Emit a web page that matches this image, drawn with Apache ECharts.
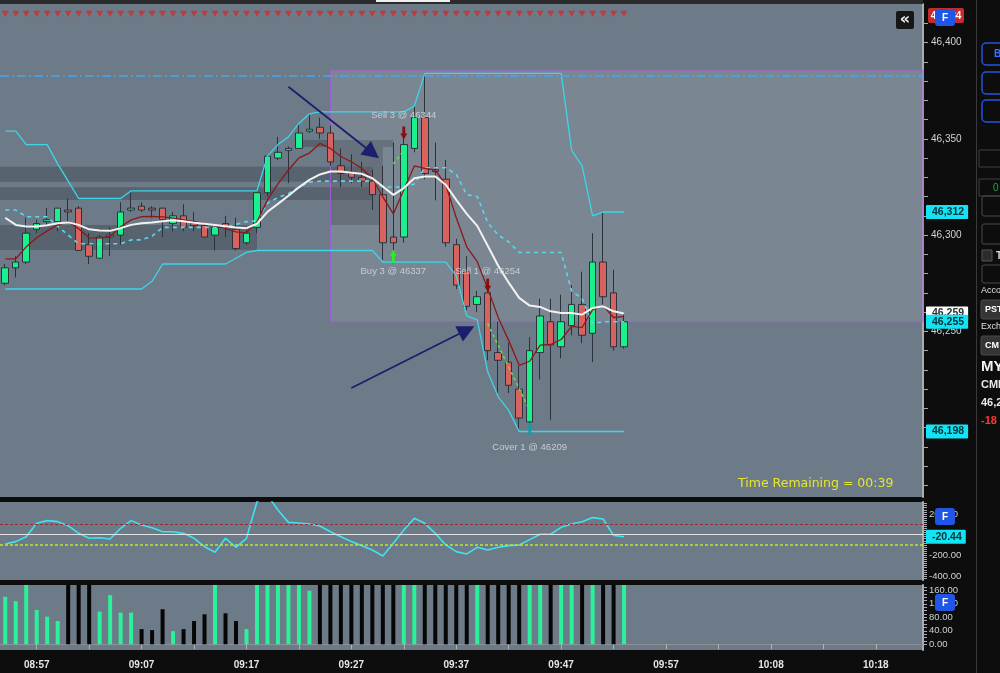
<!DOCTYPE html>
<html>
<head>
<meta charset="utf-8">
<style>
html, body { margin: 0; padding: 0; background: #0d0d0d; }
#chart { width: 1000px; height: 673px; }
</style>
<script src="https://cdn.jsdelivr.net/npm/echarts@6/dist/echarts.min.js"></script>
</head>
<body>
<div id="chart"></div>
<script>
// slots on the time axis: 60 bars so far, the rest is empty future space
const slotCount = 88
const slots = Array.from({ length: slotCount }, (_, i) => String(i))
const timeTicks = ['08:57', '09:07', '09:17', '09:27', '09:37', '09:47', '09:57', '10:08', '10:18']
const firstTickSlot = 3

// [open, close, low, high]
const candles = [
  [46275, 46283, 46274, 46285], [46283, 46286, 46278, 46289], [46286, 46301, 46285, 46309],
  [46303, 46306, 46301, 46308], [46307, 46308, 46305, 46314], [46307, 46314, 46302, 46314],
  [46313, 46312, 46307, 46319], [46314, 46292, 46292, 46315], [46295, 46289, 46285, 46301],
  [46288, 46299, 46288, 46300], [46299, 46300, 46289, 46304], [46300, 46312, 46295, 46317],
  [46313, 46314, 46312, 46322], [46315, 46313, 46312, 46317], [46314, 46313, 46309, 46315],
  [46314, 46308, 46299, 46314], [46306, 46310, 46302, 46312], [46310, 46304, 46302, 46316],
  [46306, 46305, 46302, 46312], [46305, 46299, 46299, 46306], [46300, 46304, 46292, 46304],
  [46306, 46304, 46299, 46310], [46303, 46293, 46292, 46309], [46296, 46301, 46295, 46303],
  [46304, 46322, 46301, 46322], [46322, 46341, 46320, 46341], [46340, 46343, 46339, 46351],
  [46344, 46345, 46327, 46346], [46345, 46353, 46345, 46358], [46354, 46355, 46353, 46363],
  [46356, 46353, 46350, 46361], [46353, 46338, 46336, 46357], [46336, 46332, 46325, 46345],
  [46332, 46330, 46327, 46342], [46330, 46328, 46325, 46338], [46328, 46321, 46313, 46334],
  [46321, 46296, 46287, 46336], [46299, 46296, 46292, 46348], [46299, 46347, 46296, 46351],
  [46345, 46361, 46343, 46368], [46361, 46332, 46329, 46384], [46334, 46333, 46318, 46348],
  [46329, 46296, 46294, 46339], [46295, 46274, 46272, 46298], [46281, 46263, 46261, 46289],
  [46264, 46268, 46260, 46271], [46270, 46240, 46235, 46277], [46239, 46235, 46218, 46255],
  [46234, 46222, 46218, 46244], [46220, 46205, 46199, 46232], [46203, 46240, 46198, 46247],
  [46239, 46258, 46225, 46267], [46255, 46243, 46204, 46267], [46242, 46255, 46236, 46269],
  [46253, 46264, 46248, 46274], [46264, 46248, 46244, 46281], [46249, 46286, 46234, 46301],
  [46286, 46268, 46264, 46312], [46270, 46242, 46240, 46282], [46242, 46255, 46241, 46260]
]

const fastMA = [
  46287.7, 46287.7, 46293.9, 46298.6, 46302.2, 46305.3, 46306.9, 46303.3, 46298.6, 46298.4,
  46299.3, 46304.3, 46307.9, 46309.6, 46309.7, 46309.5, 46308.8, 46307.9, 46307.0, 46306.1,
  46304.8, 46303.3, 46301.7, 46301.2, 46306.9, 46318.3, 46326.6, 46333.8, 46340.1, 46342.6,
  46347.6, 46345.0, 46340.8, 46338.1, 46334.6, 46329.4, 46319.8, 46311.0, 46323.5, 46335.9,
  46334.7, 46333.8, 46326.1, 46309.0, 46293.9, 46286.2, 46272.2, 46257.2, 46245.2, 46232.4,
  46234.5, 46242.9, 46243.2, 46245.8, 46252.6, 46252.0, 46261.3, 46263.4, 46257.2, 46257.7
]

const slowMA = [
  46309.0, 46305.3, 46304.5, 46304.5, 46305.1, 46306.1, 46306.6, 46305.3, 46303.0, 46302.4,
  46302.2, 46303.6, 46305.3, 46306.2, 46306.6, 46307.2, 46307.7, 46307.2, 46306.4, 46305.9,
  46305.3, 46304.6, 46304.0, 46303.6, 46305.9, 46312.1, 46316.2, 46320.4, 46324.8, 46328.7,
  46331.5, 46333.0, 46333.0, 46332.4, 46331.8, 46329.5, 46325.2, 46320.9, 46324.4, 46329.5,
  46330.4, 46330.4, 46326.1, 46318.3, 46311.0, 46304.8, 46294.5, 46284.1, 46275.3, 46267.4,
  46263.4, 46262.7, 46260.4, 46259.6, 46259.6, 46258.7, 46262.2, 46263.0, 46260.4, 46259.3
]

const bandUpper = [
  46354, 46354, 46347, 46347, 46347, 46337, 46328, 46319, 46319, 46319,
  46319, 46319, 46323, 46323, 46323, 46323, 46323, 46323, 46323, 46323,
  46323, 46323, 46323, 46323, 46323, 46341, 46347, 46351, 46358, 46363,
  46364, 46364, 46364, 46364, 46364, 46364, 46364, 46364, 46364, 46367,
  46384, 46384, 46384, 46384, 46384, 46384, 46384, 46384, 46384, 46384,
  46384, 46384, 46384, 46384, 46344, 46336, 46310, 46312, 46312, 46312
]

const bandLower = [
  46272, 46272, 46272, 46272, 46272, 46272, 46272, 46272, 46272, 46272,
  46272, 46272, 46272, 46272, 46276, 46285, 46285, 46285, 46285, 46285,
  46285, 46285, 46288, 46291, 46292, 46292, 46292, 46292, 46292, 46292,
  46292, 46292, 46292, 46292, 46292, 46292, 46286, 46286, 46286, 46286,
  46286, 46286, 46286, 46279, 46258, 46256, 46229, 46216, 46209, 46198,
  46198, 46198, 46198, 46198, 46198, 46198, 46198, 46198, 46198, 46198
]

const bandMid = [
  46313, 46313, 46309.5, 46309.5, 46309.5, 46304.5, 46300, 46295.5, 46295.5, 46295.5,
  46295.5, 46295.5, 46297.5, 46297.5, 46299.5, 46304, 46304, 46304, 46304, 46304,
  46304, 46304, 46305.5, 46307, 46307.5, 46316.5, 46319.5, 46321.5, 46325, 46327.5,
  46328, 46328, 46328, 46328, 46328, 46328, 46325, 46325, 46325, 46326.5,
  46335, 46335, 46335, 46331.5, 46321, 46320, 46306.5, 46300, 46296.5, 46291,
  46291, 46291, 46291, 46291, 46271, 46267, 46254, 46255, 46255, 46255
]

const cci = [
  -91, -68, -20, 109, 135, 125, 86, 12, -36, -30,
  -43, 61, 135, 93, 67, 28, 28, 12, -36, -117,
  -171, -36, -123, -36, 318, 380, 238, 118, 112, 102,
  83, 28, -20, -68, -107, -149, -207, -84, 44, 157,
  109, 12, -100, -165, -187, -123, -149, -123, -107, -100,
  -49, 3, 3, 70, 102, 125, 164, 151, -8, -20.44
]

const volume = [
  141, 128, 220, 102, 82, 69, 220, 220, 220, 97,
  146, 94, 94, 45, 42, 104, 39, 45, 69, 89,
  220, 92, 69, 45, 220, 220, 220, 220, 220, 159,
  220, 220, 220, 220, 220, 220, 220, 220, 220, 220,
  220, 220, 220, 220, 220, 220, 220, 220, 220, 220,
  220, 220, 220, 220, 220, 220, 220, 220, 220, 220
]

// shaded zones: [fromSlot or null for left edge, toSlot, high, low]
const zones = [
  [null, 35, 46335.5, 46327.7],
  [null, 35, 46324.8, 46318.2],
  [null, 24, 46305.2, 46292.3],
  [28, 37, 46349.4, 46345.8],
  [31, 36, 46345.8, 46305.2]
]
// highlighted box: from slot to right edge, top and bottom price
const boxRange = [31, 46385.7, 46255]
const levelLine = 46383

// trades: [slot, price of label, text]
const tradeLabels = [
  [38, 46362, 'Sell 3 @ 46344'],
  [37, 46281, 'Buy 3 @ 46337'],
  [46, 46281, 'Sell 1 @ 46254'],
  [50, 46190, 'Cover 1 @ 46209']
]
// [slot, price, kind]
const tradeArrows = [
  [38, 46353, 'sell'],
  [37, 46289, 'buy'],
  [46, 46274, 'sell'],
  [50, 46199.5, 'cover']
]
// [fromSlot, fromPrice, toSlot, toPrice]
const tradeLinks = [
  [37, 46337, 38, 46344],
  [46, 46254, 50, 46209]
]
const drawnArrows = [
  [27, 46377, 35, 46342.6],
  [33, 46220.6, 44, 46250.7]
]
const topMarkLevel = 46415

const priceTicks = [46250, 46300, 46350, 46400]
const oscTicks = [-400, -200, 0, 200]
const oscLevels = [100, 0, -100]
const volTicks = [0, 40, 80, 120, 160]

const priceMinor = []
for (let p = 46170; p <= 46410; p += 10) priceMinor.push(p)
const oscMinor = []
for (let v = -420; v <= 300; v += 20) oscMinor.push(v)
const volMinor = []
for (let v = 0; v <= 170; v += 10) volMinor.push(v)

const font = 'Liberation Sans, DejaVu Sans, sans-serif'
const panelBg = '#6d7a88'
const axisColor = '#a9adb2'
const labelColor = '#cfd2d6'
const cyan = '#3dd5e8'

const thousands = v => Math.floor(v).toLocaleString('en-US')

// price flag on the right axis, drawn as the end label of an invisible level line
function tag(value, bg, fg, text) {
  return {
    yAxis: value,
    lineStyle: { color: 'rgba(0,0,0,0)', width: 0 },
    label: {
      show: true, position: 'end', distance: 3,
      formatter: text || thousands(value),
      backgroundColor: bg, color: fg, fontWeight: 'bold', fontSize: 10.5,
      fontFamily: font, padding: [2, 4, 1, 6], borderRadius: 1
    }
  }
}

const downArrow = 'path://M3,0L7,0L7,7L10,7L5,13L0,7L3,7Z'
const upArrow = 'path://M5,0L10,6L7,6L7,13L3,13L3,6L0,6Z'
const arrowColor = { sell: '#8a0d0d', buy: '#25f025', cover: '#1b9aa0' }

const chart = echarts.init(document.getElementById('chart'))

const lastIdx = candles.length - 1

const option = {
  backgroundColor: '#0d0d0d',
  animation: false,
  textStyle: { fontFamily: font },
  grid: [
    { left: 0, right: 77, top: 4, height: 493, show: true, backgroundColor: panelBg, borderWidth: 0 },
    { left: 0, right: 77, top: 502, height: 78, show: true, backgroundColor: panelBg, borderWidth: 0 },
    { left: 0, right: 77, top: 585, height: 65, show: true, backgroundColor: panelBg, borderWidth: 0 }
  ],
  xAxis: [0, 1].map(g => ({
    type: 'category', gridIndex: g, data: slots, boundaryGap: true,
    axisLine: { show: false }, axisTick: { show: false }, axisLabel: { show: false }, splitLine: { show: false }
  })).concat([{
    type: 'category', gridIndex: 2, data: slots, boundaryGap: true,
    axisLine: { show: true, lineStyle: { color: '#8c9096' } },
    axisTick: {
      show: true, alignWithLabel: true, length: 5,
      interval: i => i >= firstTickSlot && (i - firstTickSlot) % 5 === 0,
      lineStyle: { color: '#b0b4b8' }
    },
    axisLabel: {
      show: true, margin: 10, color: '#e4e6e8', fontSize: 10, fontWeight: 'bold',
      interval: i => i >= firstTickSlot && (i - firstTickSlot) % 10 === 0,
      formatter: (v, i) => timeTicks[(i - firstTickSlot) / 10] || ''
    },
    splitLine: { show: false }
  }]),
  yAxis: [
    {
      type: 'value', gridIndex: 0, position: 'right', min: 46164, max: 46420,
      axisLine: { show: true, lineStyle: { color: axisColor, width: 2 } },
      axisTick: { show: true, length: 5, customValues: priceMinor, lineStyle: { color: axisColor } },
      axisLabel: { customValues: priceTicks, formatter: thousands, color: labelColor, fontSize: 10, margin: 8 },
      splitLine: { show: false }
    },
    {
      type: 'value', gridIndex: 1, position: 'right', min: -439, max: 315,
      axisLine: { show: true, lineStyle: { color: axisColor, width: 2 } },
      axisTick: { show: true, length: 4, customValues: oscMinor, lineStyle: { color: axisColor } },
      axisLabel: { customValues: oscTicks, formatter: v => v.toFixed(2), color: labelColor, fontSize: 9.5, margin: 6 },
      splitLine: { show: false }
    },
    {
      type: 'value', gridIndex: 2, position: 'right', min: -17, max: 176,
      axisLine: { show: true, lineStyle: { color: axisColor, width: 2 } },
      axisTick: { show: true, length: 4, customValues: volMinor, lineStyle: { color: axisColor } },
      axisLabel: { customValues: volTicks, formatter: v => v.toFixed(2), color: labelColor, fontSize: 9.5, margin: 6 },
      splitLine: { show: false }
    }
  ],
  series: [
    {
      type: 'candlestick', name: 'price', xAxisIndex: 0, yAxisIndex: 0,
      data: candles, barWidth: 7,
      itemStyle: {
        color: '#19f28c', color0: '#d8625e',
        borderColor: '#2c323b', borderColor0: '#2c323b', borderWidth: 1
      },
      markArea: {
        silent: true,
        data: zones.map(z => [
          { xAxis: z[0] === null ? undefined : z[0], yAxis: z[2], itemStyle: { color: 'rgba(40,47,57,0.3)' } },
          { xAxis: z[1], yAxis: z[3] }
        ]).concat([[
          { xAxis: boxRange[0], yAxis: boxRange[1], itemStyle: { color: 'rgba(255,255,255,0.09)', borderColor: '#a35ad6', borderWidth: 1 } },
          { yAxis: boxRange[2] }
        ]])
      },
      markLine: {
        silent: true, symbol: ['none', 'none'],
        data: [
          { yAxis: levelLine, lineStyle: { color: '#41a8f0', type: [9, 3, 2, 3], width: 1.5 }, label: { show: false } }
        ].concat(drawnArrows.map(a => [
          { coord: [a[0], a[1]], lineStyle: { color: '#1b1f6e', width: 1.8, type: 'solid' }, label: { show: false } },
          { coord: [a[2], a[3]], symbol: 'triangle', symbolSize: 17 }
        ])).concat(tradeLinks.map(t => [
          { coord: [t[0], t[1]], lineStyle: { color: '#6be04a', width: 1.5, type: [3, 3] }, label: { show: false } },
          { coord: [t[2], t[3]] }
        ]))
      },
      markPoint: {
        silent: true,
        data: tradeLabels.map(t => ({
          coord: [t[0], t[1]], name: t[2], symbol: 'circle', symbolSize: 0,
          label: { show: true, formatter: '{b}', color: '#c8cdd3', fontSize: 9.5, fontFamily: font }
        })).concat(tradeArrows.map(a => ({
          coord: [a[0], a[1]], symbol: a[2] === 'sell' ? downArrow : upArrow, symbolSize: [7, 13],
          itemStyle: { color: arrowColor[a[2]] }, label: { show: false }
        })))
      }
    },
    {
      type: 'line', name: 'upper', xAxisIndex: 0, yAxisIndex: 0, data: bandUpper,
      showSymbol: false, lineStyle: { color: cyan, width: 1.3 },
      markLine: { silent: true, symbol: 'none', data: [tag(bandUpper[lastIdx], '#12e4f4', '#07303a')] }
    },
    {
      type: 'line', name: 'lower', xAxisIndex: 0, yAxisIndex: 0, data: bandLower,
      showSymbol: false, lineStyle: { color: cyan, width: 1.3 },
      markLine: { silent: true, symbol: 'none', data: [tag(bandLower[lastIdx], '#12e4f4', '#07303a')] }
    },
    {
      type: 'line', name: 'mid', xAxisIndex: 0, yAxisIndex: 0, data: bandMid,
      showSymbol: false, lineStyle: { color: '#5ad8ec', width: 1.6, type: [4, 4] }
    },
    {
      type: 'line', name: 'fast', xAxisIndex: 0, yAxisIndex: 0, data: fastMA,
      showSymbol: false, lineStyle: { color: '#8c1818', width: 1.3 }
    },
    {
      type: 'line', name: 'slow', xAxisIndex: 0, yAxisIndex: 0, data: slowMA,
      showSymbol: false, lineStyle: { color: '#f2f2f2', width: 2 },
      markLine: { silent: true, symbol: 'none', data: [tag(slowMA[lastIdx], '#ffffff', '#2a2f36')] }
    },
    {
      type: 'scatter', name: 'marks', xAxisIndex: 0, yAxisIndex: 0,
      data: candles.map((c, i) => [i, topMarkLevel]),
      symbol: 'triangle', symbolRotate: 180, symbolSize: [7, 6],
      itemStyle: { color: '#d22a2a' },
      markLine: { silent: true, symbol: 'none', data: [tag(candles[lastIdx][1], '#12e4f4', '#07303a')] }
    },
    {
      type: 'line', name: 'cci', xAxisIndex: 1, yAxisIndex: 1, data: cci,
      showSymbol: false, lineStyle: { color: '#3fe2f2', width: 1.6 },
      markLine: {
        silent: true, symbol: 'none',
        data: [
          { yAxis: oscLevels[0], lineStyle: { color: '#9a2a2e', type: [3, 2], width: 1 }, label: { show: false } },
          { yAxis: oscLevels[1], lineStyle: { color: '#e2e2e2', type: 'solid', width: 1.2 }, label: { show: false } },
          { yAxis: oscLevels[2], lineStyle: { color: '#b8ec2a', type: [3, 2], width: 1.5 }, label: { show: false } },
          tag(cci[lastIdx], '#12e4f4', '#07303a', cci[lastIdx].toFixed(2))
        ]
      }
    },
    {
      type: 'bar', name: 'volume', xAxisIndex: 2, yAxisIndex: 2, barWidth: 4,
      data: volume.map((v, i) => ({
        value: v,
        itemStyle: { color: candles[i][1] > candles[i][0] ? '#2af29a' : '#060606' }
      }))
    }
  ],
  graphic: [
    { type: 'rect', shape: { x: 0, y: 0, width: 923, height: 4 }, style: { fill: '#2b2b2b' }, z: 50 },
    { type: 'rect', shape: { x: 376, y: 0, width: 74, height: 2 }, style: { fill: '#f0f0f0' }, z: 51 },
    { type: 'line', shape: { x1: 976.5, y1: 0, x2: 976.5, y2: 673 }, style: { stroke: '#3a3a3a', lineWidth: 1 }, z: 50 },
    // collapse button
    { type: 'rect', shape: { x: 896, y: 11, width: 18, height: 18, r: 2 }, style: { fill: '#161616' }, z: 60 },
    { type: 'text', x: 905, y: 20, style: { text: '\u00ab', fill: '#f0f0f0', font: 'bold 16px DejaVu Sans', align: 'center', verticalAlign: 'middle' }, z: 61 },
    { type: 'text', x: 738, y: 484, style: { text: 'Time Remaining = 00:39', fill: '#e6e62c', font: '12.5px DejaVu Sans', verticalAlign: 'middle' }, z: 60 },
    // top price flag with F button
    { type: 'rect', shape: { x: 928, y: 8, width: 36, height: 15, r: 2 }, style: { fill: '#c42a2e' }, z: 60 },
    { type: 'text', x: 946, y: 16, style: { text: '46,384', fill: '#ffffff', font: 'bold 10px Liberation Sans', align: 'center', verticalAlign: 'middle' }, z: 61 },
    { type: 'rect', shape: { x: 935, y: 9, width: 20, height: 17, r: 3 }, style: { fill: '#1f56e6' }, z: 62 },
    { type: 'text', x: 945, y: 18, style: { text: 'F', fill: '#ffffff', font: 'bold 10px Liberation Sans', align: 'center', verticalAlign: 'middle' }, z: 63 },
    { type: 'rect', shape: { x: 935, y: 508, width: 20, height: 17, r: 3 }, style: { fill: '#1f56e6' }, z: 62 },
    { type: 'text', x: 945, y: 517, style: { text: 'F', fill: '#ffffff', font: 'bold 10px Liberation Sans', align: 'center', verticalAlign: 'middle' }, z: 63 },
    { type: 'rect', shape: { x: 935, y: 594, width: 20, height: 17, r: 3 }, style: { fill: '#1f56e6' }, z: 62 },
    { type: 'text', x: 945, y: 603, style: { text: 'F', fill: '#ffffff', font: 'bold 10px Liberation Sans', align: 'center', verticalAlign: 'middle' }, z: 63 },
    // side panel
    { type: 'rect', shape: { x: 982, y: 43, width: 40, height: 22, r: 4 }, style: { fill: 'none', stroke: '#2453e0', lineWidth: 1.5 }, z: 60 },
    { type: 'text', x: 994, y: 54, style: { text: 'B', fill: '#3b73ff', font: 'bold 10px Liberation Sans', verticalAlign: 'middle' }, z: 61 },
    { type: 'rect', shape: { x: 982, y: 72, width: 40, height: 22, r: 4 }, style: { fill: 'none', stroke: '#2453e0', lineWidth: 1.5 }, z: 60 },
    { type: 'rect', shape: { x: 982, y: 100, width: 40, height: 22, r: 4 }, style: { fill: 'none', stroke: '#2453e0', lineWidth: 1.5 }, z: 60 },
    { type: 'rect', shape: { x: 979, y: 150, width: 30, height: 17 }, style: { fill: 'none', stroke: '#404040' }, z: 60 },
    { type: 'rect', shape: { x: 979, y: 179, width: 30, height: 17 }, style: { fill: 'none', stroke: '#404040' }, z: 60 },
    { type: 'text', x: 993, y: 188, style: { text: '0', fill: '#1fa352', font: '10px Liberation Sans', verticalAlign: 'middle' }, z: 61 },
    { type: 'rect', shape: { x: 982, y: 196, width: 30, height: 20, r: 2 }, style: { fill: 'none', stroke: '#4a4a4a' }, z: 60 },
    { type: 'rect', shape: { x: 982, y: 224, width: 30, height: 20, r: 2 }, style: { fill: 'none', stroke: '#4a4a4a' }, z: 60 },
    { type: 'rect', shape: { x: 982, y: 250, width: 10, height: 11 }, style: { fill: '#2c2c2c', stroke: '#555' }, z: 60 },
    { type: 'text', x: 996, y: 256, style: { text: 'T', fill: '#d8d8d8', font: 'bold 10px Liberation Sans', verticalAlign: 'middle' }, z: 61 },
    { type: 'rect', shape: { x: 982, y: 265, width: 30, height: 18, r: 2 }, style: { fill: 'none', stroke: '#4a4a4a' }, z: 60 },
    { type: 'text', x: 981, y: 291, style: { text: 'Acco', fill: '#e0e0e0', font: '9px Liberation Sans', verticalAlign: 'middle' }, z: 61 },
    { type: 'rect', shape: { x: 981, y: 300, width: 30, height: 19, r: 2 }, style: { fill: '#353535', stroke: '#4a4a4a' }, z: 60 },
    { type: 'text', x: 985, y: 310, style: { text: 'PST', fill: '#ffffff', font: 'bold 9px Liberation Sans', verticalAlign: 'middle' }, z: 61 },
    { type: 'text', x: 981, y: 327, style: { text: 'Exch', fill: '#e0e0e0', font: '9px Liberation Sans', verticalAlign: 'middle' }, z: 61 },
    { type: 'rect', shape: { x: 981, y: 336, width: 30, height: 19, r: 2 }, style: { fill: '#353535', stroke: '#4a4a4a' }, z: 60 },
    { type: 'text', x: 985, y: 346, style: { text: 'CM', fill: '#ffffff', font: 'bold 9px Liberation Sans', verticalAlign: 'middle' }, z: 61 },
    { type: 'text', x: 981, y: 367, style: { text: 'MY', fill: '#f4f4f4', font: 'bold 15px Liberation Sans', verticalAlign: 'middle' }, z: 61 },
    { type: 'text', x: 981, y: 385, style: { text: 'CMI', fill: '#e8e8e8', font: 'bold 11px Liberation Sans', verticalAlign: 'middle' }, z: 61 },
    { type: 'text', x: 981, y: 403, style: { text: '46,2', fill: '#e8e8e8', font: 'bold 11px Liberation Sans', verticalAlign: 'middle' }, z: 61 },
    { type: 'text', x: 981, y: 421, style: { text: '-18', fill: '#ff3434', font: 'bold 11px Liberation Sans', verticalAlign: 'middle' }, z: 61 }
  ]
}

chart.setOption(option)
</script>
</body>
</html>
